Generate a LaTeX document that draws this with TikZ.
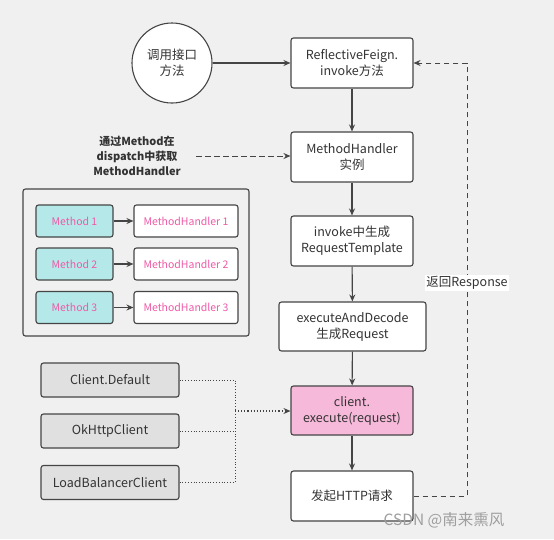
\documentclass[tikz,border=0pt]{standalone}
\usepackage{fontspec}
\setmainfont{Noto Sans CJK SC}
\usetikzlibrary{arrows.meta}
\definecolor{bg}{HTML}{F0F0F0}
\definecolor{edge}{HTML}{454545}
\definecolor{txt}{HTML}{333333}
\definecolor{cyanfill}{HTML}{B5E9E9}
\definecolor{pinkfill}{HTML}{F7B9DA}
\definecolor{pinktxt}{HTML}{EE5AA8}
\definecolor{grayfill}{HTML}{E0E0E0}
\tikzset{
  x=1pt,y=-1pt,
  box/.style={draw=edge,line width=1.1pt,rounded corners=2.5pt,fill=white,align=center,text=txt,inner sep=0pt,
    minimum width=122pt,minimum height=50pt,font=\fontsize{12.5}{16}\selectfont},
  mbox/.style={draw=edge,line width=1.1pt,rounded corners=2.5pt,fill=cyanfill,text=pinktxt,inner sep=0pt,
    minimum width=77pt,minimum height=32pt,font=\fontsize{10.5}{13}\selectfont},
  hbox/.style={mbox,fill=white,minimum width=104pt},
  cbox/.style={draw=edge,line width=1.1pt,rounded corners=2.5pt,fill=grayfill,text=txt,inner sep=0pt,
    minimum width=138pt,minimum height=34pt,font=\fontsize{12.5}{16}\selectfont},
  arr/.style={draw=edge,line width=1.1pt,-{Stealth[length=7pt,width=6pt]}},
  darr/.style={arr,line width=1pt,dash pattern=on 5.5pt off 3.5pt},
  dot/.style={draw=edge,line width=0.8pt,dotted},
}
\begin{document}
\begin{tikzpicture}
\fill[bg] (0,0) rectangle (554,539);
\useasboundingbox (0,0) rectangle (554,539);

% main column
\node[circle,draw=edge,line width=1.1pt,fill=white,minimum size=80pt,inner sep=0pt,align=center,text=txt,
  font=\fontsize{12.5}{16}\selectfont] (call) at (172,63) {调用接口\\方法};
\node[box] (rf) at (352,63) {ReflectiveFeign.\\invoke方法};
\node[box] (mh) at (352,157) {MethodHandler\\实例};
\node[box] (rt) at (352,241) {invoke中生成\\RequestTemplate};
\node[box,minimum width=147pt,minimum height=49pt] (ed) at (352.5,326.5) {executeAndDecode\\生成Request};
\node[box,fill=pinkfill,minimum height=49pt] (cl) at (352,410.5) {client.\\execute(request)};
\node[box] (http) at (352,496) {发起HTTP请求};

\draw[arr] (call) -- (rf);
\draw[arr] (rf) -- (mh);
\draw[arr] (mh) -- (rt);
\draw[arr] (rt) -- (ed);
\draw[arr] (ed) -- (cl);
\draw[arr] (cl) -- (http);

% dispatch label
\node[align=center,text=txt,font=\fontsize{11}{15}\bfseries\selectfont] (disp) at (137,156) {通过Method在\\dispatch中获取\\MethodHandler};
\coordinate (ds) at (196,156);
\draw[darr] (ds) -- (mh.west |- ds);

% return response
\coordinate (rx) at (467,283);
\draw[darr] (http.east) -- (http.east -| rx) -- (rx |- rf.east) -- (rf.east);
\node[fill=white,text=txt,inner sep=1.5pt,font=\fontsize{12.5}{16}\selectfont] (ret) at (rx) {返回Response};

% dispatch map group
\node[draw=edge,line width=1.1pt,rounded corners=2.5pt,minimum width=226pt,minimum height=147pt,inner sep=0pt] (grp) at (136,262.5) {};
\node[mbox] (m1) at (74.5,221) {Method 1};
\node[hbox] (h1) at (186,221) {MethodHandler 1};
\node[mbox] (m2) at (74.5,264) {Method 2};
\node[hbox] (h2) at (186,264) {MethodHandler 2};
\node[mbox] (m3) at (74.5,307.5) {Method 3};
\node[hbox] (h3) at (186,307.5) {MethodHandler 3};
\draw[arr] (m1) -- (h1);
\draw[arr] (m2) -- (h2);
\draw[arr] (m3) -- (h3);

% clients
\node[cbox] (cd) at (110,380) {Client.Default};
\node[cbox] (ok) at (110,431) {OkHttpClient};
\node[cbox] (lb) at (110,482.5) {LoadBalancerClient};
\coordinate (j) at (235,411);
\draw[dot] (cd.east) -| (j);
\draw[dot] (lb.east) -| (j);
\draw[dot] (ok.east) -- (ok.east -| j);
\draw[arr,dotted] (j) -- (cl.west |- j);

% watermark
\node[text=gray!75,font=\fontsize{15.5}{18}\selectfont] (wm) at (444,520) {CSDN @南来熏风};
\end{tikzpicture}
\end{document}
